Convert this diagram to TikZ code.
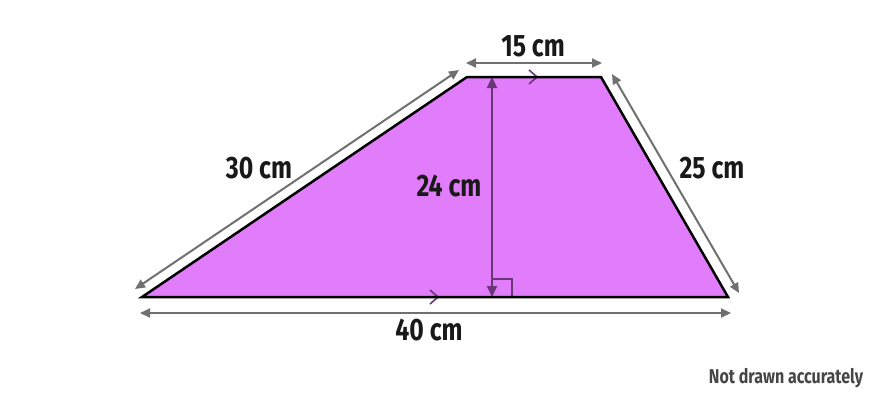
\documentclass[tikz,border=0pt]{standalone}
\usepackage{fontspec}
\setmainfont{Fira Sans}[FakeStretch=0.8]
\usetikzlibrary{arrows.meta}
\definecolor{trapfill}{RGB}{225,125,250}
\definecolor{dimgray}{RGB}{112,112,112}
\definecolor{hgtcol}{RGB}{105,55,120}
\definecolor{notecol}{RGB}{70,70,70}
\tikzset{
  dimline/.style={draw=dimgray, line width=2pt, {Triangle[length=10pt,width=9pt]}-{Triangle[length=10pt,width=9pt]}},
  lbl/.style={font=\fontsize{31}{34}\selectfont\bfseries, text=black!90, inner sep=0pt},
  edge/.style={draw=black, line width=2.5pt, line join=miter},
  tick/.style={draw=hgtcol, line width=1.6pt},
}
\begin{document}
\begin{tikzpicture}[x=1pt,y=-1pt]
\useasboundingbox (0,0) rectangle (880,400);
% vertices
\coordinate (BL) at (142,297);
\coordinate (BR) at (728,297);
\coordinate (TR) at (601,77);
\coordinate (TL) at (467,77);
\coordinate (HT) at (492,77);
\coordinate (HB) at (492,297);
% shape
\fill[trapfill] (BL) -- (BR) -- (TR) -- (TL) -- cycle;
% height
\draw[draw=hgtcol, line width=2.2pt, {Triangle[length=11pt,width=10pt]}-{Triangle[length=11pt,width=10pt]}] (HT) -- (HB);
\draw[draw=hgtcol, line width=1.6pt] (492,279) -- (512,279) -- (512,297);
% parallel ticks
\draw[tick] (529,70) -- (537,77) -- (529,84);
\draw[tick] (430,290) -- (438,297) -- (430,304);
% outline
\draw[edge] (BL) -- (BR) -- (TR) -- (TL) -- cycle;
% dimension lines
\coordinate (L1) at (135,289);
\coordinate (L2) at (459,70);
\coordinate (R1) at (612,74);
\coordinate (R2) at (739,293);
\coordinate (T1) at (466,63);
\coordinate (T2) at (602,63);
\coordinate (B1) at (140,313);
\coordinate (B2) at (731,313);
\draw[dimline] (L1) -- (L2);
\draw[dimline] (R1) -- (R2);
\draw[dimline] (T1) -- (T2);
\draw[dimline] (B1) -- (B2);
% labels
\node[lbl] (l15) at (533,46) {15 cm};
\node[lbl] (l30) at (259,168) {30 cm};
\node[lbl] (l24) at (449,186) {24 cm};
\node[lbl] (l25) at (712,168) {25 cm};
\node[lbl] (l40) at (429,330) {40 cm};
\node[font=\fontsize{20}{22}\selectfont\bfseries, text=notecol, inner sep=0pt] (note) at (786,378) {Not drawn accurately};
\end{tikzpicture}
\end{document}
